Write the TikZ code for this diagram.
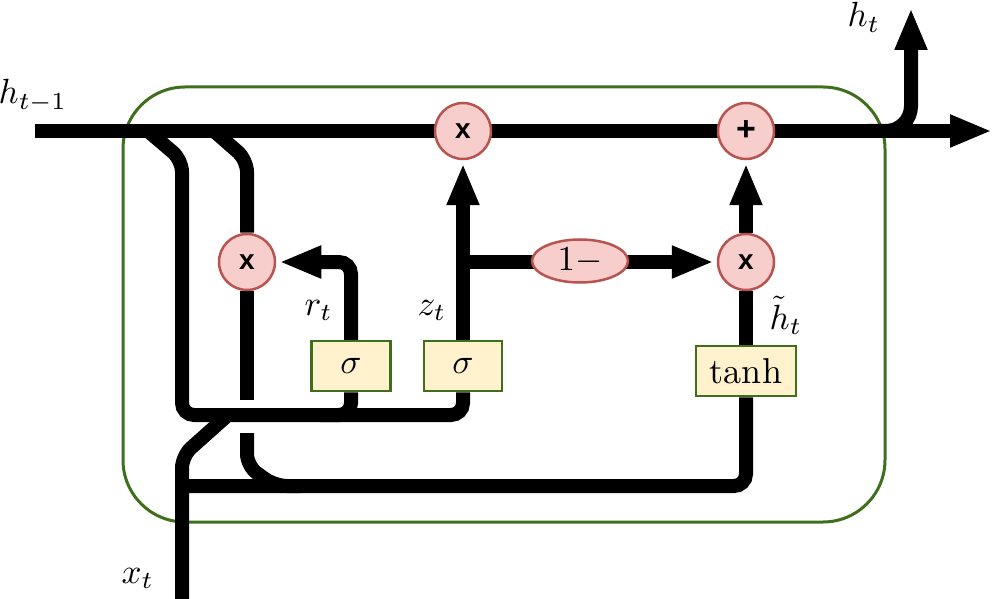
\documentclass[tikz,border=0pt]{standalone}
\usepackage{fontspec}
\setsansfont{Liberation Sans}
\usepackage{graphicx}
\usetikzlibrary{arrows.meta,shapes.geometric}
\definecolor{gfill}{HTML}{F8CECC}
\definecolor{gdraw}{HTML}{B85450}
\definecolor{yfill}{HTML}{FFF2CC}
\definecolor{grn}{HTML}{3F6E1D}
\pgfdeclarelayer{bg}
\pgfsetlayers{bg,main}
\tikzset{
  wire/.style={line width=14pt, black, rounded corners=12pt},
  arr/.style={wire, -{Triangle[length=42pt,width=30pt]}, shorten >=3pt},
  gate/.style={circle, minimum size=56pt, inner sep=0pt, fill=gfill, draw=gdraw, line width=2.5pt, font=\sffamily\bfseries\fontsize{28}{28}\selectfont},
  actbox/.style={rectangle, fill=yfill, draw=grn, line width=2.5pt, minimum height=50pt, inner sep=0pt},
  lbl/.style={scale=3.5, inner sep=0pt}
}
\begin{document}
\begin{tikzpicture}[x=1pt,y=-1pt]
\useasboundingbox (0,0) rectangle (997,599);
% gates
\node[gate] (mx1) at (463,131) {x};
\node[gate, font=\sffamily\bfseries\fontsize{34}{34}\selectfont] (pl) at (746,131) {+};
\node[gate] (mxr) at (247,262) {x};
\node[gate] (mx2) at (746,262) {x};
\node[ellipse, fill=gfill, draw=gdraw, line width=2.5pt, minimum width=96pt, minimum height=43pt, inner sep=0pt] (om) at (580,261) {\scalebox{3.5}{$1-$}};
\node[actbox, minimum width=79pt] (s1) at (351,366) {\scalebox{3.5}{$\sigma$}};
\node[actbox, minimum width=78pt] (s2) at (463,366) {\scalebox{3.5}{$\sigma$}};
\node[actbox, minimum width=100pt] (th) at (746,371) {\scalebox{3.6}{$\tanh$}};
% labels
\node[lbl, anchor=base west] (lhin) at (-2,104) {$h_{t-1}$};
\node[lbl, anchor=base west] (lhout) at (847,27) {$h_t$};
\node[lbl, anchor=base west] (lr) at (304,315) {$r_t$};
\node[lbl, anchor=base west] (lz) at (417,315) {$z_t$};
\node[lbl, anchor=base west] (lht) at (769,329) {$\tilde{h}_t$};
\node[lbl, anchor=base west] (lx) at (121,583) {$x_t$};
% coordinates
\coordinate (hin) at (35,131);
\coordinate (hout) at (995,131);
\coordinate (hsplit) at (868,131);
\coordinate (htop) at (911,5);
\coordinate (xin) at (182,599);
\coordinate (zb) at (463,262);
\begin{pgfonlayer}{bg}
\draw[grn, line width=3pt, rounded corners=62pt] (123,87) rectangle (885,522);
\draw[arr] (hin) -- (hout);
\draw[arr, rounded corners=25pt] (hsplit) -| (htop);
% h_{t-1} branches
\draw[wire] (148,131) -- (182,160) -- (182,415) -- (463,415) -- (s2.south);
\draw[wire] (320,415) -| (s1.south);
\draw[wire] (214,131) -- (247,160) -- (mxr.north);
% r*h down
\draw[wire] (mxr.south) -- (247,400);
\draw[wire] (247,433) -- (247,466) -- (275,486) -- (300,486);
% x_t
\draw[wire] (xin) -- (182,456) -- (228,415);
\draw[wire] (182,486) -- (746,486) -- (th.south);
% gates
\draw[arr] (s1.north) |- (mxr.east);
\draw[arr] (s2.north) -- (mx1.south);
\draw[arr] (zb) -- (mx2.west);
\draw[wire] (th.north) -- (mx2.south);
\draw[arr] (mx2.north) -- (pl.south);
\end{pgfonlayer}
\end{tikzpicture}
\end{document}
